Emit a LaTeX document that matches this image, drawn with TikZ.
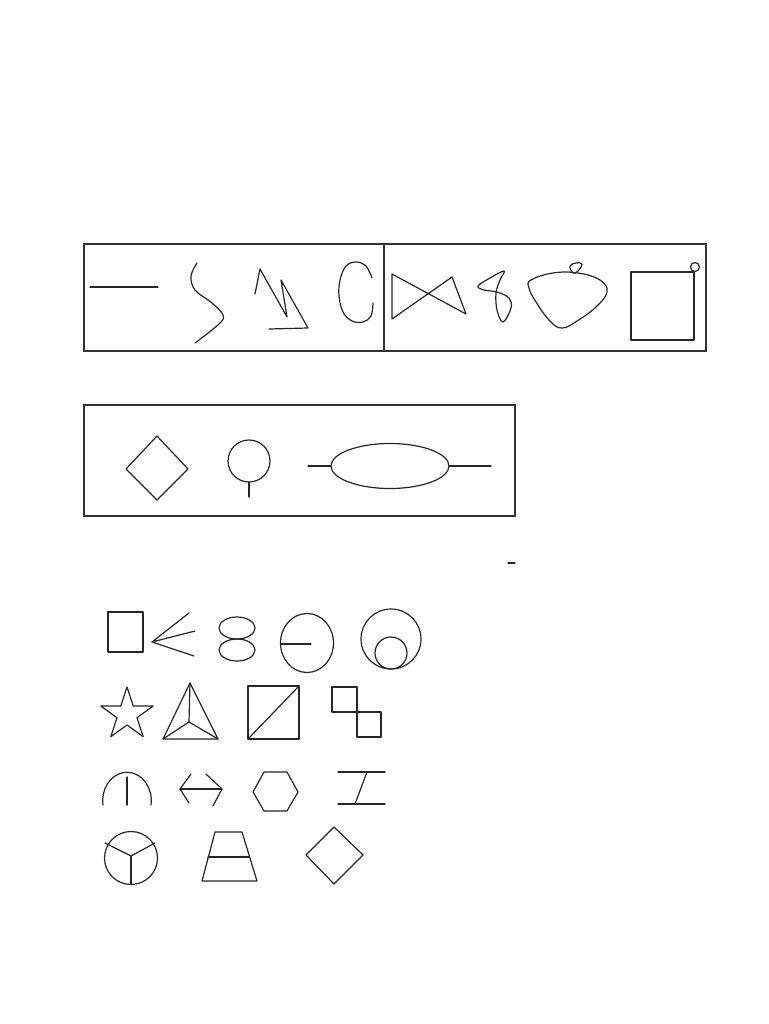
\documentclass[tikz,border=0pt]{standalone}
\begin{document}
\begin{tikzpicture}[x=1pt,y=-1pt,
  shp/.style={draw=black!85,line width=1.2pt,line join=round,line cap=round},
  frame/.style={draw=black!80,line width=1.2pt}]
\useasboundingbox[fill=white] (0,0) rectangle (768,1024);
% top panel
\draw[frame] (84,244) rectangle (706,351);
\draw[frame] (384,244) -- (384,351);
\draw[shp] (90,287) -- (158,287);
\draw[shp] plot[smooth,tension=0.6] coordinates {(197,263) (191,276) (195,290) (212,303) (223,315) (219,324) (195,343)};
\draw[shp] (255,294) -- (260,269) -- (287,317) -- (281,280) -- (308,328) -- (269,329);
\draw[shp] plot[smooth,tension=0.6] coordinates {(372,278) (366,266) (356,262) (346,266) (340,280) (339,296) (343,312) (352,321) (363,322) (371,316) (373,303)};
\draw[shp] (392,274) -- (466,314) -- (452,277) -- (392,319) -- cycle;
\draw[shp] plot[smooth cycle,tension=0.6] coordinates {(504,271) (490,278) (478,286) (484,290) (497,292) (509,298) (511,308) (503,322) (497,310) (496,293) (500,280)};
\draw[shp] plot[smooth cycle,tension=0.7] coordinates {(531,280) (553,273) (578,273) (600,280) (607,292) (596,307) (577,321) (562,328) (550,321) (536,302) (529,288)};
\draw[shp] plot[smooth cycle,tension=0.7] coordinates {(573,273) (570,266) (576,263) (582,264) (578,271)};
\draw[shp] (631,272) rectangle (694,340);
\draw[shp] (695,267) circle (4.5);
% second panel
\draw[frame] (84,405) rectangle (515,516);
\draw[shp] (126,469) -- (157,436) -- (188,469) -- (157,500) -- cycle;
\draw[shp] (249,461) circle (21);
\draw[shp] (249,482) -- (249,497);
\draw[shp] (390,466) ellipse (59 and 22.5);
\draw[shp] (308,466) -- (331,466);
\draw[shp] (449,466) -- (491,466);
\draw[shp] (508,563) -- (515,563);
% loose shapes row 1
\draw[shp] (108,612) rectangle (143,652);
\draw[shp] (189,613) -- (152,642) -- (195,631);
\draw[shp] (152,642) -- (194,656);
\draw[shp] (237,628) ellipse (18 and 11);
\draw[shp] (237,650) ellipse (18 and 11);
\draw[shp] (307,643) ellipse (26.5 and 29.5);
\draw[shp] (281,644) -- (311,644);
\draw[shp] (391,639) circle (30);
\draw[shp] (391,653) circle (16);
% row 2
\draw[shp] (127,687) -- (133.2,706.0) -- (153.2,706.0) -- (137.0,717.7) -- (143.2,736.7) -- (127,725.0) -- (110.8,736.7) -- (117.0,717.7) -- (100.8,706.0) -- (120.8,706.0) -- cycle;
\draw[shp] (190,683) -- (163,739) -- (218,739) -- cycle;
\draw[shp] (189,722) -- (190,683);
\draw[shp] (189,722) -- (163,739);
\draw[shp] (189,722) -- (218,739);
\draw[shp] (248,686) rectangle (299,739);
\draw[shp] (248,739) -- (299,686);
\draw[shp] (332,687) rectangle (357,712);
\draw[shp] (357,712) rectangle (381,737);
% row 3
\draw[shp] (103,805) arc[start angle=171,end angle=369,x radius=24.3,y radius=28.3];
\draw[shp] (127,777) -- (127,805);
\draw[shp] (180,789) -- (222,789);
\draw[shp] (191,774) -- (180,789) -- (189,803);
\draw[shp] (206,774) -- (222,789) -- (213,806);
\draw[shp] (253,792) -- (264,772) -- (287,772) -- (298,792) -- (287,811) -- (264,811) -- cycle;
\draw[shp] (338,772) -- (385,772);
\draw[shp] (338,804) -- (385,804);
\draw[shp] (367,772) -- (355,804);
% row 4
\draw[shp] (131,858) circle (26.5);
\draw[shp] (131,856) -- (105,843);
\draw[shp] (131,856) -- (155,843);
\draw[shp] (131,856) -- (131,884.5);
\draw[shp] (215,832) -- (242,832) -- (257,881) -- (202,881) -- cycle;
\draw[shp] (208,857) -- (249,857);
\draw[shp] (306,855) -- (334,827) -- (363,855) -- (334,884) -- cycle;
\end{tikzpicture}
\end{document}
